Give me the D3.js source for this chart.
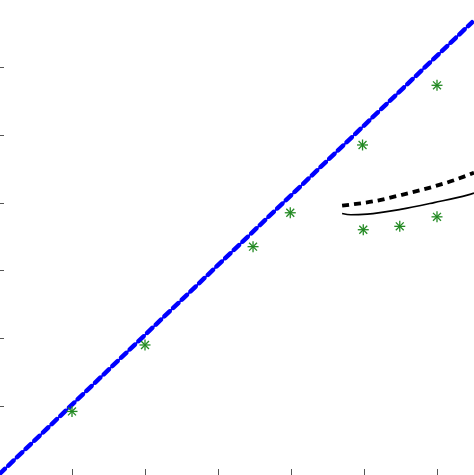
<!DOCTYPE html>
<meta charset="utf-8">
<style>
body { margin: 0; background: #fff; }
svg { display: block; }
.tick line { stroke: #555; stroke-width: 1px; shape-rendering: crispEdges; }
.domain { display: none; }
.fit-solid { fill: none; stroke: #0000ff; stroke-width: 2px; }
.fit-dash { fill: none; stroke: #0000ff; stroke-width: 4.5px; stroke-dasharray: 7,5; stroke-linecap: round; }
.model-dash { fill: none; stroke: #000; stroke-width: 3.8px; stroke-dasharray: 7,5; }
.model-solid { fill: none; stroke: #000; stroke-width: 1.6px; }
.star line { stroke: #238a23; stroke-width: 1.3px; }
</style>
<body>
<script src="https://d3js.org/d3.v7.min.js"></script>
<script>

// tick values (labels lie outside the cropped view)
var xTicks = [1, 2, 3, 4, 5, 6];
var yTicks = [1, 2, 3, 4, 5, 6];

// identity-like reference line
var refX = [0.01, 6.48];
var refY = [0.0, 6.66];

// measured points (asterisks)
var ptsX = [1.0, 2.0, 3.48, 3.99, 4.98, 6.0, 4.99, 5.49, 6.0];
var ptsY = [0.92, 1.90, 3.35, 3.85, 4.85, 5.73, 3.60, 3.65, 3.79];

// dashed black curve
var dashX = [4.70, 4.955, 5.137, 5.50, 5.867, 6.233, 6.507];
var dashY = [3.954, 3.99, 4.02, 4.11, 4.21, 4.33, 4.44];

// solid black curve
var solidX = [4.70, 4.82, 5.045, 5.50, 5.96, 6.415, 6.507];
var solidY = [3.84, 3.82, 3.83, 3.90, 4.00, 4.11, 4.14];

var width = 474, height = 475;

var x = d3.scaleLinear().domain([1, 6]).range([72, 437]);
var y = d3.scaleLinear().domain([1, 6]).range([406, 67]);

var svg = d3.select("body").append("svg")
    .attr("width", width)
    .attr("height", height);

function zip(a, b) { return a.map(function(v, i) { return [v, b[i]]; }); }

var line = d3.line()
    .x(function(d) { return x(d[0]); })
    .y(function(d) { return y(d[1]); });

var curve = d3.line()
    .curve(d3.curveMonotoneX)
    .x(function(d) { return x(d[0]); })
    .y(function(d) { return y(d[1]); });

// axes: only inward ticks show, axis lines sit just outside the frame
svg.append("g")
    .attr("transform", "translate(-1,0)")
    .call(d3.axisLeft(y).tickValues(yTicks).tickSize(-5).tickFormat(""));

svg.append("g")
    .attr("transform", "translate(0," + (height + 1) + ")")
    .call(d3.axisBottom(x).tickValues(xTicks).tickSize(-7).tickFormat(""));

// blue reference line: thin solid + thick dashes
var ref = zip(refX, refY);
svg.append("path").datum(ref).attr("class", "fit-solid").attr("d", line);
svg.append("path").datum(ref).attr("class", "fit-dash").attr("d", line);

// black curves
svg.append("path").datum(zip(dashX, dashY)).attr("class", "model-dash").attr("d", curve);
svg.append("path").datum(zip(solidX, solidY)).attr("class", "model-solid").attr("d", curve);

// asterisk markers
var r = 5.5, rd = r * 0.72;
var arms = [[-r, 0, r, 0], [0, -r, 0, r], [-rd, -rd, rd, rd], [-rd, rd, rd, -rd]];

var stars = svg.selectAll(".star")
    .data(zip(ptsX, ptsY))
  .enter().append("g")
    .attr("class", "star")
    .attr("transform", function(d) { return "translate(" + x(d[0]) + "," + y(d[1]) + ")"; });

stars.selectAll("line")
    .data(arms)
  .enter().append("line")
    .attr("x1", function(a) { return a[0]; })
    .attr("y1", function(a) { return a[1]; })
    .attr("x2", function(a) { return a[2]; })
    .attr("y2", function(a) { return a[3]; });

</script>
</body>
